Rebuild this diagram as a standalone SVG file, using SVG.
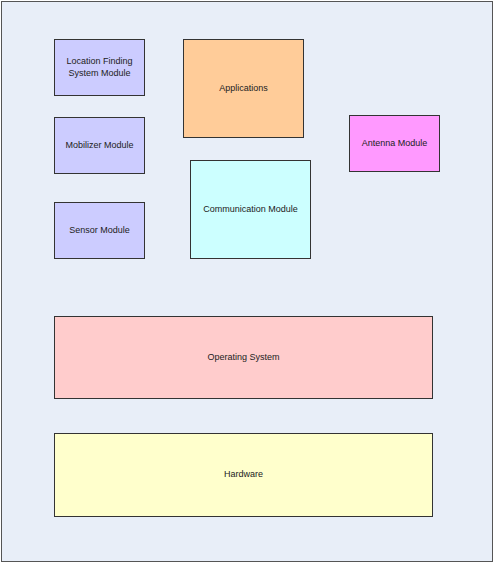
<svg xmlns="http://www.w3.org/2000/svg" width="495" height="564" viewBox="0 0 495 564">
<style>
.n rect{stroke:#333;stroke-width:1}
.n text{font-family:"Liberation Sans",Arial,sans-serif;font-size:9px;fill:#222;text-anchor:middle}
.p{fill:#ccccff}
</style>
<rect x="1.5" y="1.5" width="491" height="560" fill="#e8eef8" stroke="#555" stroke-width="1"/>
<g id="location" class="n"><rect class="p" x="54.5" y="39.5" width="90" height="56"/><text x="99.5" y="64">Location Finding</text><text x="99.5" y="76">System Module</text></g>
<g id="mobilizer" class="n"><rect class="p" x="54.5" y="117.5" width="90" height="56"/><text x="99.5" y="148">Mobilizer Module</text></g>
<g id="sensor" class="n"><rect class="p" x="54.5" y="202.5" width="90" height="56"/><text x="99.5" y="233">Sensor Module</text></g>
<g id="applications" class="n"><rect fill="#ffcc99" x="183.5" y="39.5" width="120" height="98"/><text x="243.5" y="91">Applications</text></g>
<g id="communication" class="n"><rect fill="#ccffff" x="190.5" y="160.5" width="120" height="98"/><text x="250.5" y="212">Communication Module</text></g>
<g id="antenna" class="n"><rect fill="#ff99ff" x="349.5" y="115.5" width="90" height="56"/><text x="394.5" y="146">Antenna Module</text></g>
<g id="os" class="n"><rect fill="#ffcccc" x="54.5" y="316.5" width="378" height="82"/><text x="243.5" y="360">Operating System</text></g>
<g id="hardware" class="n"><rect fill="#ffffcc" x="54.5" y="433.5" width="378" height="83"/><text x="243.5" y="477">Hardware</text></g>
<g id="connectors"></g>
</svg>
